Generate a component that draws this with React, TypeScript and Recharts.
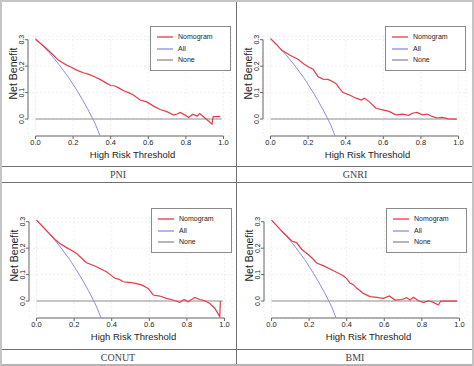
import React from 'react';
import { LineChart, Line, XAxis, YAxis, CartesianGrid, Legend, ReferenceLine, Label } from 'recharts';

const xTicks = [0, 0.2, 0.4, 0.6, 0.8, 1.0];
const yTicks = [0, 0.1, 0.2, 0.3];
const panelNames = ['PNI', 'GNRI', 'CONUT', 'BMI'];
const seriesNames = ['Nomogram', 'All', 'None'];
const seriesColors = ['#e53a48', '#8c8ce6', '#8f8f8f'];

// "Treat all" curve (same in every panel)
const treatAll = [
  { t: 0, nb: 0.305 }, { t: 0.025, nb: 0.287 }, { t: 0.05, nb: 0.268 }, { t: 0.075, nb: 0.249 },
  { t: 0.1, nb: 0.228 }, { t: 0.125, nb: 0.206 }, { t: 0.15, nb: 0.182 }, { t: 0.175, nb: 0.158 },
  { t: 0.2, nb: 0.131 }, { t: 0.225, nb: 0.103 }, { t: 0.25, nb: 0.073 }, { t: 0.275, nb: 0.041 },
  { t: 0.3, nb: 0.007 }, { t: 0.32, nb: -0.022 }, { t: 0.343, nb: -0.064 },
];

const treatNone = [{ t: 0, nb: 0 }, { t: 0.99, nb: 0 }];

const pniNomogram = [
  [0, 0.302], [0.03, 0.284], [0.059, 0.266], [0.09, 0.245], [0.121, 0.223], [0.14, 0.215],
  [0.165, 0.204], [0.19, 0.196], [0.219, 0.185], [0.254, 0.175], [0.28, 0.17], [0.308, 0.162],
  [0.343, 0.15], [0.379, 0.135], [0.4, 0.127], [0.423, 0.125], [0.445, 0.117], [0.468, 0.107],
  [0.495, 0.1], [0.521, 0.091], [0.556, 0.072], [0.592, 0.065], [0.628, 0.049], [0.663, 0.036],
  [0.699, 0.028], [0.734, 0.015], [0.752, 0.019], [0.77, 0.025], [0.796, 0.015], [0.814, 0.006],
  [0.837, 0.018], [0.859, 0.011], [0.873, 0.021], [0.903, 0.003], [0.925, -0.01], [0.939, -0.019],
  [0.945, 0.009], [0.983, 0.009],
];

const gnriNomogram = [
  [0, 0.304], [0.03, 0.283], [0.06, 0.26], [0.104, 0.241], [0.148, 0.225], [0.174, 0.21],
  [0.2, 0.198], [0.227, 0.188], [0.253, 0.16], [0.279, 0.151], [0.306, 0.15], [0.332, 0.141],
  [0.35, 0.133], [0.367, 0.116], [0.385, 0.1], [0.42, 0.091], [0.455, 0.079], [0.482, 0.072],
  [0.499, 0.079], [0.525, 0.066], [0.561, 0.041], [0.596, 0.035], [0.631, 0.029], [0.666, 0.016],
  [0.701, 0.019], [0.736, 0.014], [0.754, 0.022], [0.78, 0.025], [0.807, 0.016], [0.833, 0.019],
  [0.859, 0.01], [0.886, 0.004], [0.912, 0.006], [0.947, 0.001], [0.991, 0],
];

const conutNomogram = [
  [0, 0.306], [0.035, 0.28], [0.071, 0.253], [0.1, 0.232], [0.124, 0.218], [0.16, 0.202],
  [0.19, 0.19], [0.213, 0.18], [0.24, 0.162], [0.266, 0.145], [0.29, 0.138], [0.319, 0.13],
  [0.345, 0.12], [0.372, 0.111], [0.395, 0.098], [0.417, 0.086], [0.44, 0.082], [0.461, 0.073],
  [0.49, 0.071], [0.514, 0.069], [0.559, 0.061], [0.594, 0.048], [0.621, 0.023], [0.656, 0.019],
  [0.691, 0.01], [0.727, 0.004], [0.762, -0.005], [0.785, 0.006], [0.807, -0.003], [0.842, 0.014],
  [0.869, 0.006], [0.895, 0.001], [0.922, -0.009], [0.949, -0.028], [0.975, -0.059], [0.978, 0.0],
];

const bmiNomogram = [
  [0, 0.306], [0.03, 0.283], [0.062, 0.259], [0.085, 0.243], [0.107, 0.227], [0.133, 0.221],
  [0.16, 0.196], [0.195, 0.176], [0.22, 0.16], [0.24, 0.144], [0.275, 0.134], [0.311, 0.121],
  [0.346, 0.109], [0.382, 0.096], [0.4, 0.085], [0.417, 0.068], [0.435, 0.062], [0.453, 0.049],
  [0.47, 0.04], [0.488, 0.029], [0.524, 0.017], [0.56, 0.014], [0.595, 0.01], [0.627, 0.019],
  [0.657, 0.004], [0.693, 0.006], [0.719, 0.013], [0.737, 0.004], [0.755, 0.014], [0.782, 0.001],
  [0.808, -0.005], [0.835, 0.001], [0.861, -0.005], [0.888, -0.015], [0.9, 0.0], [0.986, 0.0],
];

const nomograms = [pniNomogram, gnriNomogram, conutNomogram, bmiNomogram];
const toPoints = (arr: number[][]) => arr.map(([t, nb]) => ({ t, nb }));

const fmt = (v: number) => v.toFixed(1);

const YTick = (props: any) => {
  const { x, y, payload } = props;
  return (
    <text x={x} y={y} transform={`rotate(-90, ${x}, ${y})`} textAnchor="middle" fontSize={7} fill="#222">
      {Number(payload.value).toFixed(1)}
    </text>
  );
};

const XLabel = (props: any) => {
  const vb = props.viewBox || { x: 28, y: 136, width: 203, height: 30 };
  return (
    <text x={vb.x + vb.width / 2 + 3} y={vb.y + 21.5} textAnchor="middle" fontSize={9.5} fill="#222">
      High Risk Threshold
    </text>
  );
};

const YLabel = (props: any) => {
  const vb = props.viewBox || { x: 0, y: 36, width: 28, height: 100 };
  const cx = vb.x + 16.5;
  const cy = vb.y + 37.5;
  return (
    <text x={cx} y={cy} transform={`rotate(-90, ${cx}, ${cy})`} textAnchor="middle" fontSize={10.5} fill="#222">
      Net Benefit
    </text>
  );
};

const LegendBox = () => (
  <div style={{ width: 81, height: 45, boxSizing: 'border-box', border: '1px solid #8a8a8a', background: '#fff', paddingTop: 4 }}>
    {seriesNames.map((name, i) => (
      <div key={name} style={{ position: 'relative', height: 11.7, lineHeight: '11.7px', fontSize: 7, color: '#222' }}>
        <svg width={17} height={4} style={{ position: 'absolute', left: 6, top: 4 }}>
          <line x1={0} y1={2} x2={16} y2={2} stroke={seriesColors[i]} strokeWidth={1.3} />
        </svg>
        <span style={{ position: 'absolute', left: 27, top: 0, color: '#222' }}>{name}</span>
      </div>
    ))}
  </div>
);

const Panel = ({ idx, left, top }: { idx: number; left: number; top: number }) => (
  <div style={{ position: 'absolute', left, top, width: 237, height: 166 }}>
    <LineChart width={237} height={166} margin={{ top: 36, right: 6, left: 0, bottom: 0 }}>
      <CartesianGrid stroke="#efefef" strokeDasharray="2 2" />
      <XAxis
        type="number" dataKey="t" domain={[-0.04, 1.04]} ticks={xTicks} allowDataOverflow
        axisLine={false} tickLine={{ stroke: '#666' }} tickSize={3} tickMargin={1} height={30}
        tick={{ fontSize: 7.5, fill: '#222' }} tickFormatter={fmt} interval={0}
        label={<Label content={<XLabel />} />}
      />
      <YAxis
        type="number" domain={[-0.064, 0.314]} ticks={yTicks} allowDataOverflow
        axisLine={false} tickLine={{ stroke: '#666' }} width={28} tickSize={3} tickMargin={1}
        tick={<YTick />} interval={0}
        label={<Label content={<YLabel />} />}
      />
      <ReferenceLine segment={[{ x: 0, y: -0.064 }, { x: 1, y: -0.064 }]} stroke="#666" ifOverflow="visible" />
      <ReferenceLine segment={[{ x: -0.04, y: 0 }, { x: -0.04, y: 0.3 }]} stroke="#666" ifOverflow="visible" />
      <Line data={treatNone} dataKey="nb" name={seriesNames[2]} stroke={seriesColors[2]} strokeWidth={1.1} dot={false} isAnimationActive={false} type="linear" />
      <Line data={treatAll} dataKey="nb" name={seriesNames[1]} stroke={seriesColors[1]} strokeWidth={1} dot={false} isAnimationActive={false} type="monotone" />
      <Line data={toPoints(nomograms[idx])} dataKey="nb" name={seriesNames[0]} stroke={seriesColors[0]} strokeWidth={1.2} dot={false} isAnimationActive={false} type="linear" />
      <Legend
        layout="vertical" align="center" verticalAlign="middle"
        content={<LegendBox />}
        wrapperStyle={{ left: 150, top: 26, width: 81, height: 45 }}
      />
    </LineChart>
  </div>
);

const hLine = (top: number, color = '#707070', h = 1) => (
  <div style={{ position: 'absolute', left: 0, top, width: 474, height: h, background: color }} />
);

const caption = (text: string, left: number, top: number, width: number) => (
  <div style={{ position: 'absolute', left, top, width, height: 15, lineHeight: '15px', textAlign: 'center', fontFamily: '"Liberation Serif", "Times New Roman", serif', fontSize: 10, color: '#444' }}>
    {text}
  </div>
);

export default function App() {
  return (
    <div style={{ position: 'absolute', left: 0, top: 0, width: 474, height: 366, background: '#fff', overflow: 'hidden', fontFamily: '"Liberation Sans", Arial, sans-serif' }}>
      <Panel idx={0} left={0} top={0} />
      <Panel idx={1} left={235} top={0} />
      <Panel idx={2} left={1} top={182} />
      <Panel idx={3} left={236} top={182} />
      {hLine(166)}
      {hLine(182)}
      {hLine(349)}
      <div style={{ position: 'absolute', left: 236, top: 0, width: 1, height: 366, background: '#707070' }} />
      {caption(panelNames[0], 0, 167, 236)}
      {caption(panelNames[1], 237, 167, 236)}
      {caption(panelNames[2], 0, 350, 236)}
      {caption(panelNames[3], 237, 350, 236)}
      {hLine(0, '#c4c4c4', 2)}
      {hLine(364, '#b4b4b4', 2)}
      <div style={{ position: 'absolute', left: 0, top: 0, width: 2, height: 366, background: '#c4c4c4' }} />
      <div style={{ position: 'absolute', left: 472, top: 0, width: 2, height: 366, background: '#c4c4c4' }} />
    </div>
  );
}
